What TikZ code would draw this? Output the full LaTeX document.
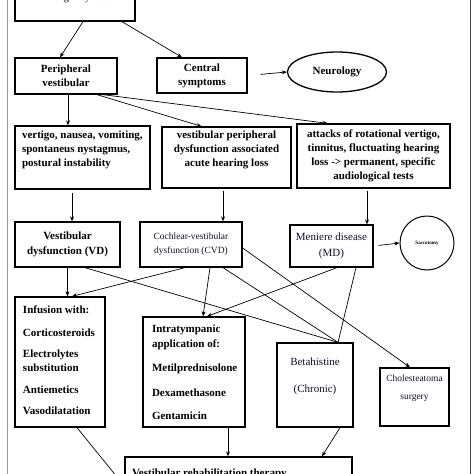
\documentclass[tikz,border=0pt]{standalone}
\usepackage{fontspec}
\setmainfont{Liberation Serif}
\usetikzlibrary{arrows.meta,shapes.geometric}
\definecolor{frameGray}{RGB}{150,150,150}
\definecolor{frameDark}{RGB}{70,70,70}
\definecolor{inkNavy}{RGB}{15,18,40}
\definecolor{inkSlate}{RGB}{70,90,95}
\newcommand{\boxfont}{\fontsize{11}{14}\selectfont\bfseries}
\newcommand{\plainfont}{\fontsize{11}{14}\selectfont}
\newcommand{\topbox}[4]{\parbox[c][#2pt][t]{#1pt}{\vspace*{#3pt}#4}}
\newcommand{\leftpad}[1]{\raggedright\leftskip=#1pt\relax}

\begin{document}
\begin{tikzpicture}[x=1pt,y=-1pt,
  flowbox/.style={draw,line width=1.3pt,inner sep=0pt,font=\boxfont},
  centerbox/.style={flowbox,align=center},
  arr/.style={-{Stealth[length=5pt,width=4pt]},line width=0.7pt},
  link/.style={line width=0.7pt}]
\useasboundingbox (0,0) rectangle (474,474);

% page frame
\draw[frameGray,line width=1pt] (7,-5) -- (7,480);
\draw[frameDark,line width=0.8pt] (470,-5) -- (470,480);

% first levels
\node[centerbox,minimum width=120pt,minimum height=46pt,text=inkSlate] (visit) at (75,-2) {Emergency visit};
\node[centerbox,minimum width=102pt,minimum height=36pt] (periph) at (66,76) {Peripheral\\ vestibular};
\node[centerbox,minimum width=90pt,minimum height=35pt] (central) at (202,75.5) {Central\\ symptoms};
\node[draw,ellipse,line width=1.3pt,minimum width=99pt,minimum height=40pt,inner sep=0pt,font=\boxfont] (neuro) at (337,72) {Neurology};

% symptoms
\node[flowbox] (sym1) at (82.5,157.5) {\topbox{135}{63}{5}{\leftpad{7}vertigo, nausea, vomiting,\\ spontaneus nystagmus,\\ postural instability\par}};
\node[flowbox] (sym2) at (226.5,157.5) {\topbox{129}{61}{4}{\centering vestibular peripheral\\ dysfunction associated\\ acute hearing loss\par}};
\node[centerbox,minimum width=153pt,minimum height=64pt] (sym3) at (373.5,156) {attacks of rotational vertigo,\\ tinnitus, fluctuating hearing\\ loss -> permanent, specific\\ audiological tests};

% diagnoses
\node[centerbox,minimum width=105pt,minimum height=45pt,font=\fontsize{11}{15}\selectfont\bfseries] (vd) at (67.5,244.5) {Vestibular\\ dysfunction (VD)};
\node[centerbox,minimum width=102pt,minimum height=45pt,font=\fontsize{9.5}{14}\selectfont,text=inkNavy] (cvd) at (191,244.5) {Cochlear-vestibular\\ dysfunction (CVD)};
\node[centerbox,minimum width=83pt,minimum height=42pt,font=\fontsize{11}{16}\selectfont,text=inkNavy] (md) at (331.5,246) {Meniere disease\\ (MD)};
\node[draw,circle,line width=1pt,minimum size=54pt,inner sep=0pt,font=\fontsize{5}{6}\selectfont\bfseries] (surg) at (427,243) {Saccotomy};

% treatments
\node[flowbox] (inf) at (60,362) {\topbox{90}{130}{9}{\leftpad{8}Infusion with:\\[9pt] Corticosteroids\\[7pt] Electrolytes\\ substitution\\[8pt] Antiemetics\\[7pt] Vasodilatation\par}};
\node[flowbox] (intra) at (194,372) {\topbox{102}{110}{8}{\leftpad{9}Intratympanic\\[1pt] application of:\\[10pt] Metilprednisolone\\[11pt] Dexamethasone\\[9pt] Gentamicin\par}};
\node[flowbox,font=\plainfont,text=inkNavy] (beta) at (315,385) {\topbox{76}{84}{15}{\centering Betahistine\\[13pt] (Chronic)\par}};
\node[flowbox,font=\fontsize{9.5}{18}\selectfont,text=inkNavy] (chol) at (414.5,397) {\topbox{69}{58}{7}{\centering Cholesteatoma\\ surgery\par}};
\node[flowbox] (rehab) at (238.5,475) {\topbox{227}{36}{12}{\leftpad{7}Vestibular rehabilitation therapy\par}};

% connectors
\draw[arr] ([xshift=8pt]visit.south) -- ([xshift=-6pt]periph.north);
\draw[arr] ([xshift=47pt]visit.south) -- ([xshift=-20pt]central.north);
\draw[arr,shorten <=13pt] (central.east) -- (neuro.west);
\draw[arr] ([xshift=2pt]periph.south) -- ([xshift=2pt]periph.south |- sym1.north);
\draw[arr] ([xshift=31pt]periph.south) -- ([xshift=-25pt]sym2.north);
\draw[arr] ([xshift=37pt]periph.south) -- ([xshift=-46pt]sym3.north);
\draw[arr,shorten <=3pt] ([xshift=-10.5pt]sym1.south) -- ([xshift=-10.5pt]sym1.south |- vd.north);
\draw[arr,shorten <=2pt] ([xshift=-3.5pt]sym2.south) -- ([xshift=-3.5pt]sym2.south |- cvd.north);
\draw[arr,shorten <=2pt] ([xshift=-6.5pt]sym3.south) -- ([xshift=-6.5pt]sym3.south |- md.north);
\draw[arr,shorten <=5pt] (md.east) -- (surg.west);
\draw[arr] (vd.south) -- (vd.south |- inf.north);
\draw[arr] ([xshift=-6pt]cvd.south) -- ([xshift=12pt]inf.north);
\draw[link] ([xshift=17.5pt]vd.south) -- ([xshift=23pt]beta.north);
\draw[link] ([xshift=32pt]cvd.south) -- ([xshift=23pt]beta.north);
\draw[link] ([xshift=24.5pt]md.south) -- ([xshift=23pt]beta.north);
\draw[arr] ([xshift=19pt]cvd.south) -- ([xshift=9pt]intra.north);
\draw[arr] ([xshift=5.5pt]md.south) -- ([xshift=13pt]intra.north);
\draw[arr] ([yshift=-3.5pt]cvd.east) -- ([xshift=-4.5pt]chol.north);
\draw[arr] ([xshift=34pt]intra.south) -- ([xshift=34pt]intra.south |- rehab.north);
\draw[arr] ([xshift=25pt]beta.south) -- ([xshift=83.5pt]rehab.north);
\draw[arr] ([xshift=17pt]inf.south) -- ([yshift=-11pt]rehab.west);
\end{tikzpicture}
\end{document}
